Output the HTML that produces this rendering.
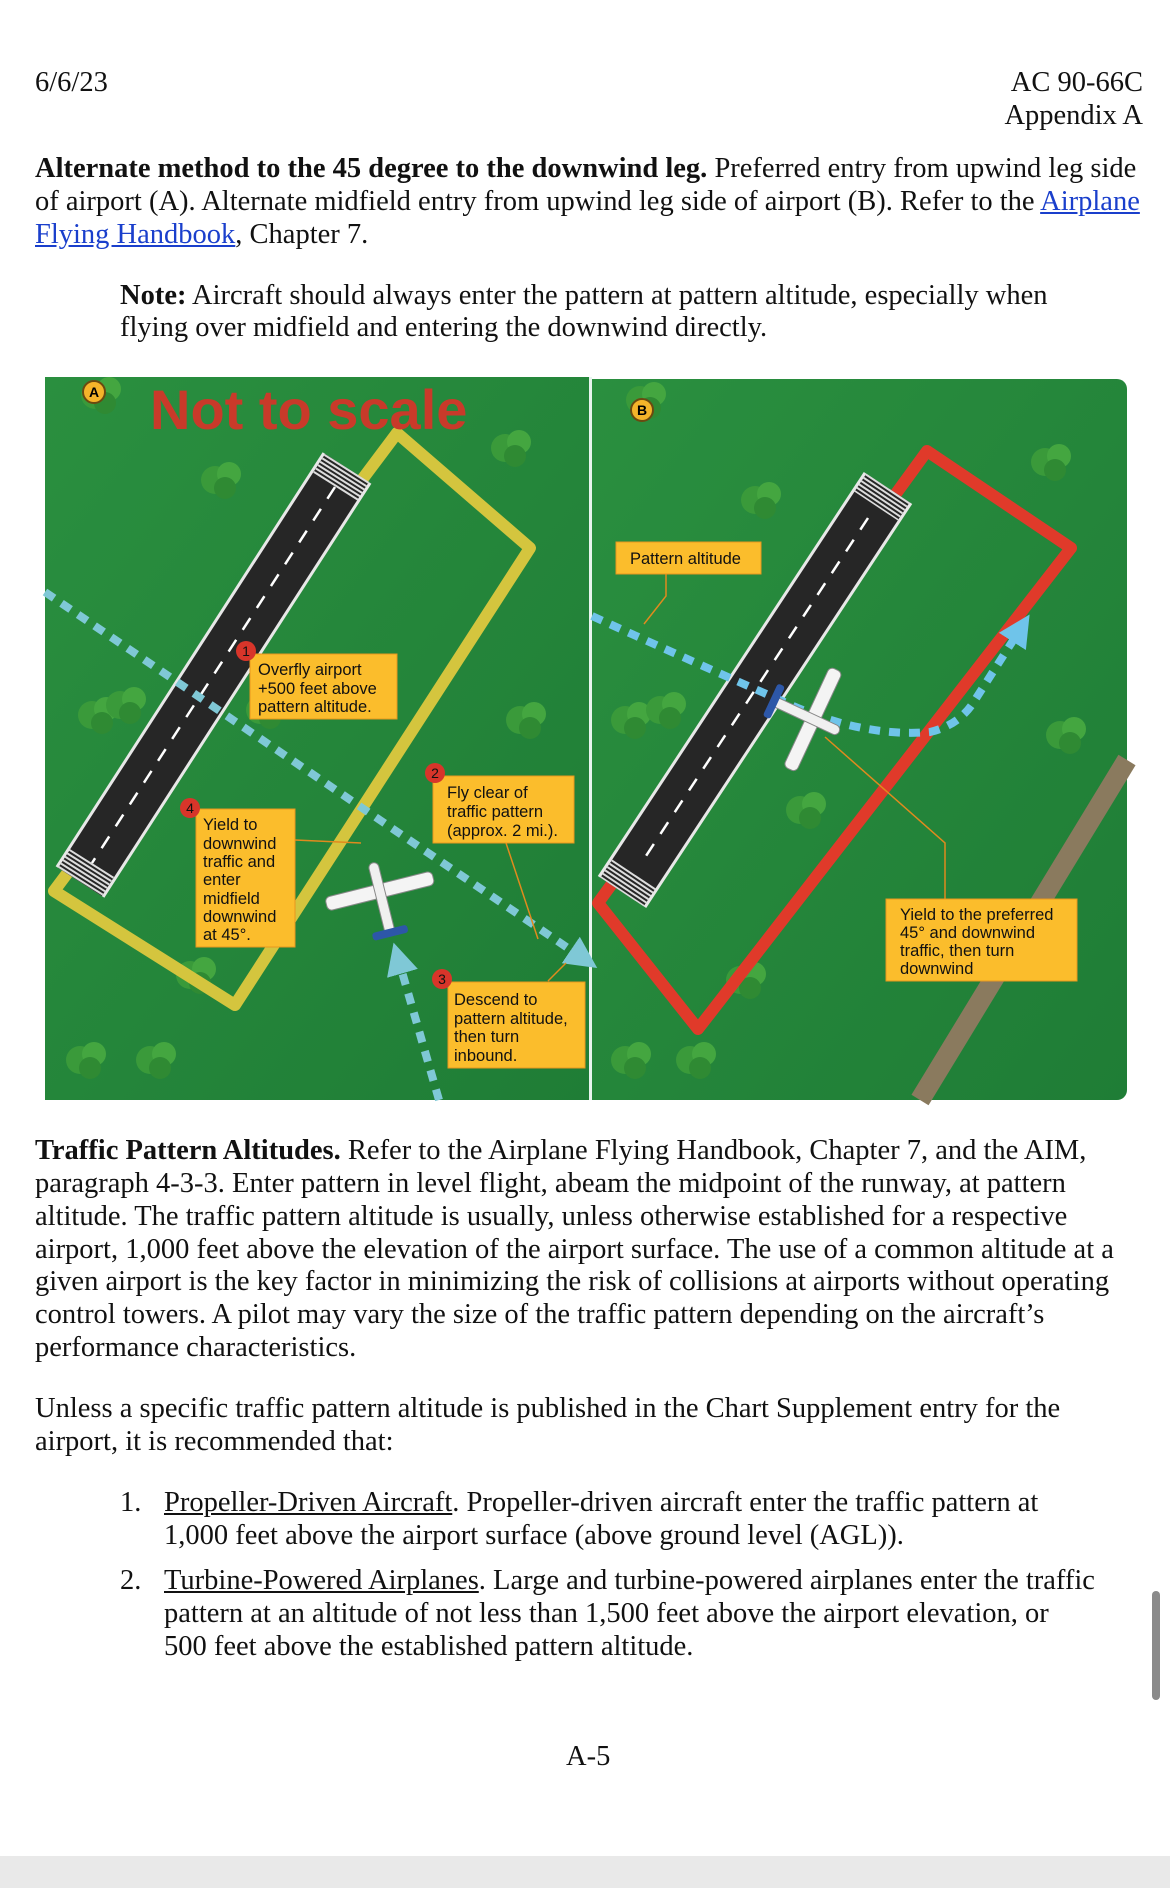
<!DOCTYPE html>
<html><head><meta charset="utf-8"><style>
html,body{margin:0;padding:0;background:#fff;}
body{width:1170px;height:1888px;position:relative;overflow:hidden;font-family:"Liberation Serif",serif;color:#111;}
.t{position:absolute;font-size:28.5px;line-height:33px;white-space:nowrap;}
a,u{color:#1a3fcc;text-decoration:underline;}
.u{text-decoration:underline;}
svg{position:absolute;left:0;top:0;}
.lb{font-family:"Liberation Sans",sans-serif;font-size:16.5px;fill:#111;}
</style></head><body>
<div class="t" style="left:35px;top:66px">6/6/23</div>
<div class="t" style="right:27px;top:66px">AC 90-66C</div>
<div class="t" style="right:27px;top:99px">Appendix A</div>

<div class="t" style="left:35px;top:152px"><b>Alternate method to the 45 degree to the downwind leg.</b> Preferred entry from upwind leg side</div>
<div class="t" style="left:35px;top:185px">of airport (A). Alternate midfield entry from upwind leg side of airport (B). Refer to the <a>Airplane</a></div>
<div class="t" style="left:35px;top:218px"><a>Flying Handbook</a>, Chapter 7.</div>

<div class="t" style="left:120px;top:279px"><b>Note:</b> Aircraft should always enter the pattern at pattern altitude, especially when</div>
<div class="t" style="left:120px;top:311px">flying over midfield and entering the downwind directly.</div>

<svg width="1170" height="1888" viewBox="0 0 1170 1888">
<defs>
<linearGradient id="g1" x1="0" y1="0" x2="1" y2="1"><stop offset="0" stop-color="#2a8f3f"/><stop offset="1" stop-color="#1f7d36"/></linearGradient>
<marker id="ar" markerWidth="4" markerHeight="4" refX="2" refY="2" orient="auto" markerUnits="strokeWidth"><path d="M0,0 L4,2 L0,4 z" fill="#7fc8d6"/></marker>
<marker id="ar2" markerWidth="4" markerHeight="4" refX="2" refY="2" orient="auto" markerUnits="strokeWidth"><path d="M0,0 L4,2 L0,4 z" fill="#6fc4ea"/></marker>
<g id="tree"><circle cx="0" cy="0" r="14" fill="#3a9a3a"/><circle cx="14" cy="-6" r="12" fill="#44a640"/><circle cx="10" cy="8" r="11" fill="#2f8a33"/></g>
</defs>
<rect x="45" y="377" width="545" height="723" fill="url(#g1)"/>
<path d="M592,379 H1117 a10,10 0 0 1 10,10 V1090 a10,10 0 0 1 -10,10 H592 z" fill="url(#g1)"/>
<rect x="589" y="377" width="3" height="723" fill="#e8f4ee"/>
<use href="#tree" x="95" y="395"/><use href="#tree" x="215" y="480"/><use href="#tree" x="505" y="448"/>
<use href="#tree" x="92" y="715"/><use href="#tree" x="120" y="705"/><use href="#tree" x="520" y="720"/>
<use href="#tree" x="260" y="710"/><use href="#tree" x="190" y="975"/><use href="#tree" x="80" y="1060"/><use href="#tree" x="150" y="1060"/>
<use href="#tree" x="640" y="400"/><use href="#tree" x="755" y="500"/><use href="#tree" x="1045" y="462"/>
<use href="#tree" x="625" y="720"/><use href="#tree" x="660" y="710"/><use href="#tree" x="1060" y="735"/>
<use href="#tree" x="800" y="810"/><use href="#tree" x="740" y="980"/><use href="#tree" x="625" y="1060"/><use href="#tree" x="690" y="1060"/>
<line x1="1127" y1="760" x2="920" y2="1100" stroke="#8a7a5e" stroke-width="20"/>
<path d="M397,433 L530,548 L235,1005 L54,891 Z" fill="none" stroke="#d4c53e" stroke-width="12" stroke-linejoin="round"/>
<line x1="347" y1="468" x2="80" y2="882" stroke="#e8e8e8" stroke-width="58"/>
<line x1="347" y1="468" x2="80" y2="882" stroke="#262626" stroke-width="52"/>
<line x1="335" y1="487" x2="92" y2="863" stroke="#fff" stroke-width="2.5" stroke-dasharray="14 12"/>
<line x1="347" y1="468" x2="335" y2="487" stroke="#ddd" stroke-width="52" stroke-dasharray="2 2"/>
<line x1="92" y1="863" x2="80" y2="882" stroke="#ddd" stroke-width="52" stroke-dasharray="2 2"/>
<path d="M45,592 L584,959" stroke="#7fc8d6" stroke-width="8" stroke-dasharray="11 9" fill="none" marker-end="url(#ar)"/>
<path d="M439,1100 L398,958" stroke="#7fc8d6" stroke-width="8" stroke-dasharray="11 9" fill="none" marker-end="url(#ar)"/>
<g transform="translate(380,892) rotate(-14)">
<rect x="-55" y="-8" width="110" height="14" rx="5" fill="#f4f4f4" stroke="#888"/>
<rect x="-5" y="-30" width="10" height="75" rx="5" fill="#f0f0f0" stroke="#888"/>
<rect x="-18" y="38" width="36" height="8" rx="3" fill="#2d57a8"/>
</g>
<polyline points="295,840 361,843" stroke="#e08a1e" stroke-width="1.5" fill="none"/>
<polyline points="506,843 538,939" stroke="#e08a1e" stroke-width="1.5" fill="none"/>
<polyline points="548,981 566,963" stroke="#e08a1e" stroke-width="1.5" fill="none"/>
<rect x="250" y="654" width="147" height="65" fill="#fbbd2c" stroke="#e8961e"/>
<text class="lb" x="258" y="675">Overfly airport</text><text class="lb" x="258" y="694">+500 feet above</text><text class="lb" x="258" y="712">pattern altitude.</text>
<rect x="433" y="776" width="141" height="67" fill="#fbbd2c" stroke="#e8961e"/>
<text class="lb" x="447" y="798">Fly clear of</text><text class="lb" x="447" y="817">traffic pattern</text><text class="lb" x="447" y="836">(approx. 2 mi.).</text>
<rect x="196" y="809" width="99" height="138" fill="#fbbd2c" stroke="#e8961e"/>
<text class="lb" x="203" y="830">Yield to</text><text class="lb" x="203" y="849">downwind</text><text class="lb" x="203" y="867">traffic and</text><text class="lb" x="203" y="885">enter</text><text class="lb" x="203" y="904">midfield</text><text class="lb" x="203" y="922">downwind</text><text class="lb" x="203" y="940">at 45°.</text>
<rect x="448" y="982" width="137" height="86" fill="#fbbd2c" stroke="#e8961e"/>
<text class="lb" x="454" y="1005">Descend to</text><text class="lb" x="454" y="1024">pattern altitude,</text><text class="lb" x="454" y="1042">then turn</text><text class="lb" x="454" y="1061">inbound.</text>
<g font-family="Liberation Sans,sans-serif" font-size="14" text-anchor="middle">
<circle cx="246" cy="651" r="10" fill="#d8352a"/><text x="246" y="656" fill="#111">1</text>
<circle cx="435" cy="773" r="10" fill="#d8352a"/><text x="435" y="778" fill="#111">2</text>
<circle cx="190" cy="808" r="10" fill="#d8352a"/><text x="190" y="813" fill="#111">4</text>
<circle cx="442" cy="979" r="10" fill="#d8352a"/><text x="442" y="984" fill="#111">3</text>
<circle cx="94" cy="392" r="11" fill="#f5b42a" stroke="#6a4a10" stroke-width="2"/><text x="94" y="397" font-weight="bold">A</text>
<circle cx="642" cy="410" r="11" fill="#f5b42a" stroke="#6a4a10" stroke-width="2"/><text x="642" y="415" font-weight="bold">B</text>
</g>
<text x="150" y="429" font-family="Liberation Sans,sans-serif" font-weight="bold" font-size="56" fill="#c93a2a">Not to scale</text>
<path d="M927,451 L1071,548 L698,1029 L598,903 Z" fill="none" stroke="#e03a2a" stroke-width="12" stroke-linejoin="round"/>
<line x1="888" y1="488" x2="622" y2="892" stroke="#e8e8e8" stroke-width="58"/>
<line x1="888" y1="488" x2="622" y2="892" stroke="#262626" stroke-width="52"/>
<line x1="868" y1="518" x2="642" y2="862" stroke="#fff" stroke-width="2.5" stroke-dasharray="14 12"/>
<line x1="888" y1="488" x2="876" y2="506" stroke="#ddd" stroke-width="52" stroke-dasharray="2 2"/>
<line x1="634" y1="874" x2="622" y2="892" stroke="#ddd" stroke-width="52" stroke-dasharray="2 2"/>
<path d="M592,616 Q700,665 780,700 Q860,738 930,732 Q960,725 975,700 L1021,628" stroke="#6fc4ea" stroke-width="8" stroke-dasharray="11 9" fill="none" marker-end="url(#ar2)"/>
<g transform="translate(812,719) rotate(115)">
<rect x="-55" y="-8" width="110" height="14" rx="5" fill="#f4f4f4" stroke="#888"/>
<rect x="-5" y="-30" width="10" height="75" rx="5" fill="#f0f0f0" stroke="#888"/>
<rect x="-18" y="38" width="36" height="8" rx="3" fill="#2d57a8"/>
</g>
<polyline points="666,574 666,596 644,624" stroke="#e08a1e" stroke-width="1.5" fill="none"/>
<polyline points="945,899 945,843 825,737" stroke="#e08a1e" stroke-width="1.5" fill="none"/>
<rect x="616" y="542" width="145" height="32" fill="#fbbd2c" stroke="#e8961e"/>
<text class="lb" x="630" y="564">Pattern altitude</text>
<rect x="886" y="899" width="191" height="82" fill="#fbbd2c" stroke="#e8961e"/>
<text class="lb" x="900" y="920">Yield to the preferred</text><text class="lb" x="900" y="938">45° and downwind</text><text class="lb" x="900" y="956">traffic, then turn</text><text class="lb" x="900" y="974">downwind</text>
</svg>

<div class="t" style="left:35px;top:1134px"><b>Traffic Pattern Altitudes.</b> Refer to the Airplane Flying Handbook, Chapter 7, and the AIM,</div>
<div class="t" style="left:35px;top:1167px">paragraph 4-3-3. Enter pattern in level flight, abeam the midpoint of the runway, at pattern</div>
<div class="t" style="left:35px;top:1200px">altitude. The traffic pattern altitude is usually, unless otherwise established for a respective</div>
<div class="t" style="left:35px;top:1233px">airport, 1,000 feet above the elevation of the airport surface. The use of a common altitude at a</div>
<div class="t" style="left:35px;top:1265px">given airport is the key factor in minimizing the risk of collisions at airports without operating</div>
<div class="t" style="left:35px;top:1298px">control towers. A pilot may vary the size of the traffic pattern depending on the aircraft’s</div>
<div class="t" style="left:35px;top:1331px">performance characteristics.</div>

<div class="t" style="left:35px;top:1392px">Unless a specific traffic pattern altitude is published in the Chart Supplement entry for the</div>
<div class="t" style="left:35px;top:1425px">airport, it is recommended that:</div>

<div class="t" style="left:120px;top:1486px">1.</div>
<div class="t" style="left:164px;top:1486px"><span class="u">Propeller-Driven Aircraft</span>. Propeller-driven aircraft enter the traffic pattern at</div>
<div class="t" style="left:164px;top:1519px">1,000 feet above the airport surface (above ground level (AGL)).</div>
<div class="t" style="left:120px;top:1564px">2.</div>
<div class="t" style="left:164px;top:1564px"><span class="u">Turbine-Powered Airplanes</span>. Large and turbine-powered airplanes enter the traffic</div>
<div class="t" style="left:164px;top:1597px">pattern at an altitude of not less than 1,500 feet above the airport elevation, or</div>
<div class="t" style="left:164px;top:1630px">500 feet above the established pattern altitude.</div>

<div class="t" style="left:566px;top:1740px">A-5</div>

<div style="position:absolute;left:1152px;top:1591px;width:8px;height:109px;border-radius:4px;background:#8a8a8a"></div>
<div style="position:absolute;left:0;top:1856px;width:1170px;height:32px;background:#e9e9e9"></div>
</body></html>
